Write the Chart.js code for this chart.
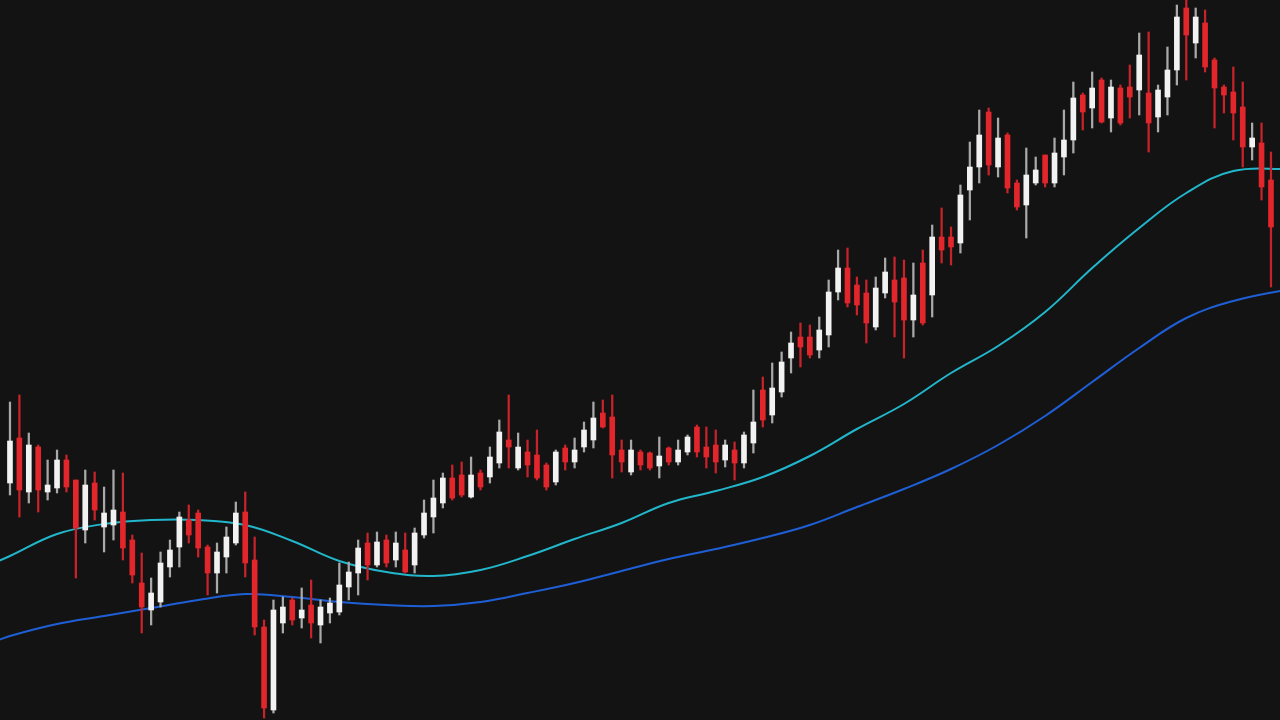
<!DOCTYPE html>
<html>

<head>
    <title>Candles with moving averages</title>
    <script src="https://cdn.jsdelivr.net/npm/chart.js"></script>
    <style>
        html, body { margin: 0; padding: 0; background: #131313; overflow: hidden; }
        #wrap { width: 1280px; height: 720px; }
    </style>
</head>

<body>
    <div id="wrap"><canvas id="candleChart" width="1280" height="720"></canvas></div>

    <script>
        // OHLC per candle
        var opens = [237, 282, 228, 273, 228, 232, 260, 240, 190, 237,
            193, 195, 208, 180, 137, 110, 118, 153, 173, 200,
            207, 173, 147, 163, 177, 208, 160, 93, 10, 97,
            120, 102, 115, 95, 107, 108, 133, 147, 177, 155,
            180, 160, 170, 155, 185, 203, 217, 242, 245, 223,
            247, 243, 257, 280, 252, 268, 265, 255, 238, 272,
            258, 273, 280, 307, 303, 270, 248, 268, 267, 254,
            272, 258, 268, 293, 273, 275, 260, 270, 257, 277,
            330, 305, 328, 362, 383, 383, 370, 385, 428, 452,
            435, 427, 393, 427, 440, 442, 400, 457, 425, 483,
            483, 477, 530, 553, 608, 553, 585, 537, 515, 537,
            565, 537, 563, 580, 625, 612, 640, 602, 632, 633,
            630, 627, 603, 623, 650, 712, 677, 697, 660, 633,
            628, 613, 573, 577, 540];
        var highs = [318, 325, 287, 275, 260, 270, 265, 240, 250, 248,
            233, 250, 247, 185, 167, 142, 168, 180, 208, 215,
            210, 175, 177, 193, 218, 228, 183, 100, 120, 123,
            122, 132, 140, 120, 122, 157, 158, 180, 187, 188,
            185, 188, 187, 192, 220, 240, 247, 255, 258, 263,
            250, 273, 300, 325, 287, 280, 290, 257, 270, 275,
            282, 298, 318, 320, 325, 280, 280, 270, 268, 283,
            273, 280, 285, 295, 293, 290, 280, 278, 288, 330,
            343, 357, 368, 388, 397, 395, 403, 440, 470, 472,
            443, 440, 443, 462, 463, 460, 457, 470, 495, 512,
            493, 535, 578, 610, 612, 602, 587, 540, 572, 563,
            565, 582, 610, 638, 627, 648, 642, 640, 635, 655,
            687, 688, 635, 673, 715, 720, 712, 710, 662, 635,
            653, 638, 597, 597, 568];
        var lows = [225, 203, 217, 208, 220, 227, 228, 142, 177, 200,
            168, 180, 160, 137, 87, 95, 113, 143, 153, 177,
            163, 125, 127, 147, 175, 143, 85, 2, 7, 87,
            95, 92, 82, 77, 97, 105, 120, 125, 140, 153,
            153, 153, 147, 147, 182, 187, 212, 220, 223, 222,
            230, 237, 252, 252, 250, 243, 240, 230, 235, 250,
            252, 268, 272, 292, 242, 248, 245, 250, 250, 242,
            255, 255, 265, 263, 252, 247, 253, 240, 252, 267,
            293, 297, 323, 347, 353, 362, 362, 373, 420, 413,
            405, 377, 390, 422, 383, 362, 383, 395, 403, 457,
            455, 467, 500, 537, 545, 543, 527, 510, 482, 535,
            533, 533, 545, 567, 590, 592, 597, 588, 595, 602,
            605, 568, 588, 605, 635, 640, 662, 648, 592, 607,
            580, 553, 560, 520, 433];
        var closes = [279, 230, 275, 230, 235, 260, 233, 192, 235, 210,
            207, 210, 172, 145, 113, 127, 157, 170, 203, 185,
            172, 147, 168, 183, 207, 157, 93, 12, 110, 113,
            100, 110, 97, 113, 117, 135, 148, 172, 155, 178,
            157, 177, 148, 187, 207, 222, 242, 222, 225, 245,
            233, 263, 288, 273, 273, 255, 242, 233, 268, 258,
            270, 290, 302, 293, 265, 258, 270, 255, 252, 264,
            258, 270, 283, 268, 263, 258, 275, 257, 285, 298,
            300, 332, 358, 377, 373, 365, 390, 428, 452, 417,
            415, 397, 432, 448, 418, 400, 425, 397, 483, 470,
            473, 525, 553, 585, 555, 582, 532, 513, 545, 550,
            537, 567, 580, 622, 608, 632, 598, 633, 597, 623,
            665, 597, 630, 650, 703, 685, 703, 653, 632, 625,
            607, 573, 582, 533, 493];

        // moving averages, sampled every 5 candles
        var maIdx = [-2, 0, 5, 10, 15, 20, 25, 30, 35, 40, 45, 50, 55, 60, 65,
            70, 75, 80, 85, 90, 95, 100, 105, 110, 115, 120, 125, 130, 136];
        var maFast = [156, 164, 186, 196, 200, 200, 195, 179, 159, 148, 144, 150, 164, 181, 197,
            217, 229, 243, 264, 291, 316, 347, 374, 408, 452, 492, 527, 549, 551];
        var maSlow = [77, 84, 96, 104, 112, 120, 126, 123, 118, 115, 114, 118, 127, 137, 149,
            161, 171, 182, 195, 213, 231, 251, 275, 304, 338, 372, 402, 419, 431];

        var upColor = '#f2f2f2';
        var downColor = '#e3262b';

        var bodies = [], wicks = [], bodyColors = [], wickColors = [];
        opens.forEach(function (o, i) {
            var up = closes[i] >= o;
            bodies.push({ x: i, y: [o, closes[i]] });
            wicks.push({ x: i, y: [lows[i], highs[i]] });
            bodyColors.push(up ? upColor : downColor);
            wickColors.push(up ? '#a9a9a9' : '#c8232a');
        });

        var fastLine = maIdx.map(function (x, k) { return { x: x, y: maFast[k] }; });
        var slowLine = maIdx.map(function (x, k) { return { x: x, y: maSlow[k] }; });

        new Chart("candleChart", {
            type: "bar",
            data: {
                datasets: [{
                    type: 'line',
                    label: 'MA fast',
                    data: fastLine,
                    borderColor: '#22b6cb',
                    borderWidth: 2,
                    pointRadius: 0,
                    tension: 0.4,
                    order: 3
                }, {
                    type: 'line',
                    label: 'MA slow',
                    data: slowLine,
                    borderColor: '#1f5fd6',
                    borderWidth: 2,
                    pointRadius: 0,
                    tension: 0.4,
                    order: 3
                }, {
                    label: 'wick',
                    data: wicks,
                    backgroundColor: wickColors,
                    barThickness: 1.6,
                    grouped: false,
                    order: 2
                }, {
                    label: 'body',
                    data: bodies,
                    backgroundColor: bodyColors,
                    barThickness: 5,
                    grouped: false,
                    order: 1
                }]
            },
            options: {
                responsive: false,
                animation: false,
                devicePixelRatio: 1,
                layout: { padding: 0 },
                plugins: {
                    legend: { display: false },
                    tooltip: { enabled: false }
                },
                scales: {
                    x: { type: 'linear', offset: false, min: -1.06, max: 134.96, display: false },
                    y: { min: 0, max: 720, display: false }
                }
            }
        });
    </script>
</body>

</html>
